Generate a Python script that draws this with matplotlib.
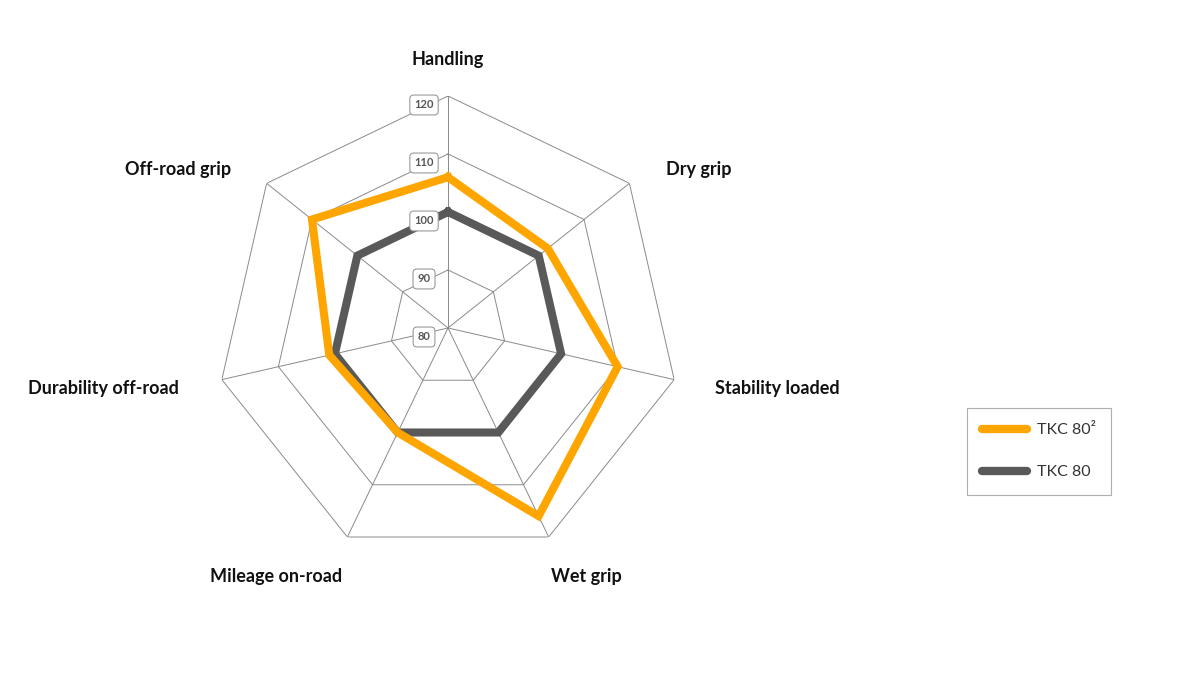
import numpy as np
import matplotlib.pyplot as plt
from matplotlib.lines import Line2D

# chart data
categories = ['Handling', 'Dry grip', 'Stability loaded', 'Wet grip',
              'Mileage on-road', 'Durability off-road', 'Off-road grip']
tkc80_2 = [106, 102, 110, 116, 100, 101, 110]
tkc80 = [100, 100, 100, 100, 100, 100, 100]
ring_values = [80, 90, 100, 110, 120]
series_names = ['TKC 80\u00b2', 'TKC 80']

# label layout (pixel offsets from the outer vertex, alignment)
label_offsets = [(0, 36), (37, 14), (41, -9), (2, -39), (-5, -39), (-43, -9), (-36, 14)]
label_align = ['center', 'left', 'left', 'left', 'right', 'right', 'right']

ORANGE = '#FFA500'
GREY = '#595959'
GRID = '#8a8a8a'

plt.rcParams['font.family'] = ['Lato', 'DejaVu Sans']

fig = plt.figure(figsize=(12, 6.75), dpi=100)
ax = fig.add_axes([0.18, 0.1704, 0.3867, 0.6874], projection='polar')
ax.set_theta_zero_location('N')
ax.set_theta_direction(-1)
ax.set_ylim(ring_values[0], ring_values[-1])
ax.set_xticks([])
ax.set_yticks([])
ax.grid(False)
ax.spines['polar'].set_visible(False)
ax.patch.set_visible(False)

n = len(categories)
angles = np.linspace(0, 2 * np.pi, n, endpoint=False)
closed = np.append(angles, angles[0])

# heptagon rings and spokes
for v in ring_values[1:]:
    ax.plot(closed, [v] * (n + 1), color=GRID, lw=0.7, zorder=1)
for a in angles:
    ax.plot([a, a], [ring_values[0], ring_values[-1]], color=GRID, lw=0.7, zorder=1)

# series
ax.plot(closed, tkc80 + tkc80[:1], color=GREY, lw=5.8,
        solid_joinstyle='miter', zorder=3)
ax.plot(closed, tkc80_2 + tkc80_2[:1], color=ORANGE, lw=5.8,
        solid_joinstyle='miter', zorder=4)

# ring value badges
for v in ring_values:
    ax.annotate(str(v), xy=(0, v), xytext=(-24, -9), textcoords='offset pixels',
                ha='center', va='center', fontsize=8, fontweight='bold', color='#555555',
                bbox=dict(boxstyle='round,pad=0.4,rounding_size=0.35', fc='white',
                          ec='#9a9a9a', lw=0.8),
                zorder=5, annotation_clip=False)

# category labels
for a, name, off, ha in zip(angles, categories, label_offsets, label_align):
    ax.annotate(name, xy=(a, ring_values[-1]), xytext=off, textcoords='offset pixels',
                ha=ha, va='center', fontsize=13, fontweight='bold', color='#111111',
                annotation_clip=False)

handles = [Line2D([], [], color=ORANGE, lw=6, solid_capstyle='round'),
           Line2D([], [], color=GREY, lw=6, solid_capstyle='round')]
leg = fig.legend(handles, series_names, loc='upper left',
                 bbox_to_anchor=(967 / 1200, 1 - 408 / 675),
                 frameon=True, fancybox=False, edgecolor='#9a9a9a',
                 borderpad=0.95, labelspacing=1.75, handlelength=2.8,
                 handletextpad=0.65, borderaxespad=0,
                 prop={'size': 11.5, 'weight': 'normal'})
leg.get_frame().set_linewidth(0.8)
for t in leg.get_texts():
    t.set_color('#333333')

fig.savefig('out.png', dpi=100)
